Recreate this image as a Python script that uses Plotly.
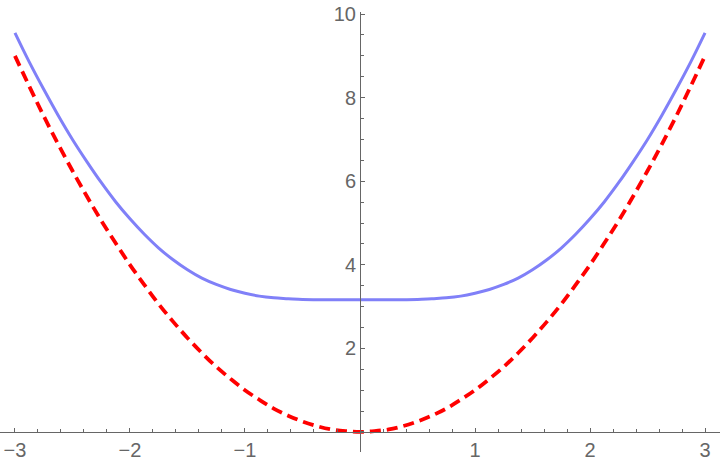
import plotly.graph_objects as go

# values (left half; the curves are mirrored about x = 0)
x_left = [-3, -2.875, -2.75, -2.625, -2.5, -2.375, -2.25, -2.125, -2, -1.875, -1.75, -1.625,
          -1.5, -1.375, -1.25, -1.125, -1, -0.875, -0.75, -0.625, -0.5, -0.375, -0.25, -0.125, 0]
blue_left = [9.55, 8.85, 8.2, 7.58, 7.0, 6.47, 5.97, 5.51, 5.1, 4.73, 4.4, 4.12,
             3.88, 3.68, 3.53, 3.41, 3.32, 3.25, 3.21, 3.19, 3.17, 3.165, 3.163, 3.162, 3.162]
red_left = [9.0, 8.27, 7.56, 6.89, 6.25, 5.64, 5.06, 4.52, 4.0, 3.52, 3.06, 2.64,
            2.25, 1.89, 1.56, 1.27, 1.0, 0.77, 0.56, 0.39, 0.25, 0.14, 0.06, 0.02, 0]

x_vals = x_left + [-v for v in x_left[-2::-1]]
blue_vals = blue_left + blue_left[-2::-1]
red_vals = red_left + red_left[-2::-1]

x_ticks = [-3, -2, -1, 1, 2, 3]
y_ticks = [2, 4, 6, 8, 10]

fig = go.Figure()
fig.add_trace(go.Scatter(x=x_vals, y=blue_vals, mode='lines',
                         line=dict(color='#8080f8', width=3, shape='spline'),
                         showlegend=False))
fig.add_trace(go.Scatter(x=x_vals, y=red_vals, mode='lines',
                         line=dict(color='#ff0000', width=3.8, shape='spline', dash='11px,6px'),
                         showlegend=False))

xmin, xmax = -3.13, 3.13
ymin, ymax = -0.48, 10.05
axis_col = '#666666'
font = dict(family='Liberation Sans, Arial', size=20, color='#666666')

fig.update_layout(
    width=720, height=464,
    margin=dict(l=0, r=0, t=12, b=12),
    plot_bgcolor='white', paper_bgcolor='white',
    xaxis=dict(range=[xmin, xmax], tickvals=x_ticks, ticks='inside', ticklen=4,
               tickcolor=axis_col, showline=True, linecolor=axis_col, linewidth=1,
               showgrid=False, zeroline=False, anchor='free',
               position=(0 - ymin) / (ymax - ymin), tickfont=font,
               ticklabeloverflow='allow',
               minor=dict(dtick=0.2, tick0=0, ticks='inside', ticklen=2.5, tickcolor=axis_col)),
    yaxis=dict(range=[ymin, ymax], tickvals=y_ticks, ticks='inside', ticklen=4,
               tickcolor=axis_col, showline=True, linecolor=axis_col, linewidth=1,
               showgrid=False, zeroline=False, anchor='free',
               position=(0 - xmin) / (xmax - xmin), tickfont=font,
               ticklabeloverflow='allow',
               minor=dict(dtick=0.5, tick0=0, ticks='inside', ticklen=2.5, tickcolor=axis_col)),
)

# drop the default 8px body margin so the figure sits at the page corner
fig.write_html("out.html", config={'displayModeBar': False},
               post_script="document.body.style.margin='0px';")
